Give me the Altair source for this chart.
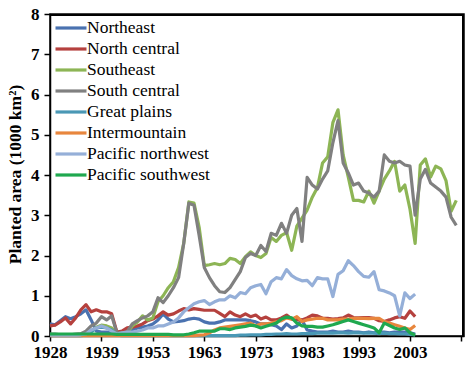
import altair as alt
import pandas as pd

# category position index (Excel-like category axis), tick labels every 10 categories
tick_positions = [0, 10, 20, 30, 40, 50, 60, 70, 80]
tick_labels = ["1928", "1939", "1953", "1963", "1973", "1983", "1993", "2003", ""]

regions = ["Northeast", "North central", "Southeast", "South central",
           "Great plains", "Intermountain", "Pacific northwest", "Pacific southwest"]
colors = ["#4A72B0", "#B5413E", "#8DB555", "#808080",
          "#4A98B5", "#E8863D", "#95AFD8", "#1FA84F"]

northeast = [0.30, 0.28, 0.38, 0.48, 0.43, 0.48, 0.55, 0.65, 0.40, 0.12,
             0.10, 0.10, 0.08, 0.05, 0.08, 0.12, 0.15, 0.20, 0.22, 0.25,
             0.30, 0.40, 0.55, 0.42, 0.35, 0.36, 0.38, 0.42, 0.44, 0.42,
             0.35, 0.32, 0.32, 0.35, 0.40, 0.40, 0.40, 0.40, 0.40, 0.38,
             0.35, 0.30, 0.30, 0.28, 0.25, 0.16, 0.30, 0.20, 0.25, 0.40,
             0.15, 0.12, 0.10, 0.10, 0.10, 0.12, 0.10, 0.10, 0.12, 0.10,
             0.10, 0.08, 0.10, 0.08, 0.10, 0.10, 0.08, 0.10, 0.10, 0.10,
             0.08, 0.05]
north_central = [0.25, 0.27, 0.35, 0.45, 0.30, 0.45, 0.65, 0.78, 0.60, 0.65,
                 0.60, 0.60, 0.55, 0.10, 0.12, 0.20, 0.22, 0.25, 0.30, 0.38,
                 0.42, 0.50, 0.60, 0.52, 0.55, 0.62, 0.68, 0.65, 0.68, 0.66,
                 0.64, 0.64, 0.64, 0.56, 0.48, 0.60, 0.52, 0.48, 0.55, 0.48,
                 0.52, 0.42, 0.47, 0.40, 0.40, 0.45, 0.52, 0.42, 0.40, 0.40,
                 0.45, 0.52, 0.50, 0.44, 0.44, 0.42, 0.43, 0.45, 0.52, 0.46,
                 0.45, 0.46, 0.46, 0.44, 0.38, 0.36, 0.40, 0.45, 0.48, 0.44,
                 0.62, 0.48]
southeast = [0.03, 0.03, 0.03, 0.03, 0.03, 0.03, 0.04, 0.06, 0.12, 0.22,
             0.27, 0.25, 0.20, 0.05, 0.05, 0.08, 0.25, 0.35, 0.50, 0.40,
             0.45, 0.85, 1.00, 1.20, 1.35, 1.70, 2.30, 3.33, 3.30, 2.70,
             1.75, 1.77, 1.80, 1.77, 1.80, 1.93, 1.90, 1.80, 1.97, 2.09,
             2.00, 1.95, 2.05, 2.45, 2.35, 2.50, 2.57, 2.13, 2.73, 2.93,
             3.13, 3.45, 3.69, 4.30, 4.45, 5.30, 5.62, 4.50, 3.95, 3.37,
             3.37, 3.33, 3.60, 3.30, 3.60, 3.90, 4.10, 4.34, 3.60, 3.75,
             3.15, 2.30, 4.25, 4.40, 3.95, 4.22, 4.15, 3.86, 3.10, 3.37]
south_central = [0.05, 0.05, 0.03, 0.03, 0.03, 0.05, 0.06, 0.12, 0.25, 0.32,
                 0.48, 0.40, 0.50, 0.08, 0.08, 0.10, 0.30, 0.38, 0.45, 0.50,
                 0.60, 0.95, 0.83, 1.00, 1.20, 1.45, 2.30, 3.30, 3.25, 2.50,
                 1.70, 1.45, 1.25, 1.10, 1.08, 1.20, 1.40, 1.60, 1.95, 2.05,
                 2.00, 2.25, 2.10, 2.55, 2.50, 2.80, 2.55, 3.00, 3.17, 2.35,
                 3.94, 3.75, 3.65, 3.90, 4.10, 4.80, 5.35, 4.30, 4.05, 3.75,
                 3.80, 3.60, 3.55, 3.45, 3.60, 4.50, 4.34, 4.30, 4.34, 4.25,
                 4.22, 3.00, 3.90, 4.14, 3.80, 3.70, 3.60, 3.45, 2.95, 2.75]
great_plains = [0.01, 0.01, 0.01, 0.01, 0.01, 0.01, 0.01, 0.02, 0.10, 0.20,
                0.22, 0.20, 0.15, 0.02, 0.01, 0.01, 0.01, 0.01, 0.01, 0.01,
                0.01, 0.01, 0.01, 0.01, 0.01, 0.01, 0.01, 0.01, 0.01, 0.01,
                0.01, 0.01, 0.01, 0.01, 0.01, 0.01, 0.01, 0.02, 0.02, 0.03,
                0.03, 0.03, 0.04, 0.04, 0.05, 0.05, 0.06, 0.05, 0.05, 0.06,
                0.06, 0.06, 0.07, 0.07, 0.08, 0.07, 0.08, 0.08, 0.07, 0.08,
                0.08, 0.07, 0.08, 0.07, 0.06, 0.07, 0.06, 0.06, 0.05, 0.05,
                0.04, 0.03]
intermountain = [0.01, 0.01, 0.01, 0.01, 0.01, 0.01, 0.01, 0.01, 0.01, 0.01,
                 0.01, 0.01, 0.01, 0.01, 0.01, 0.01, 0.01, 0.01, 0.01, 0.01,
                 0.01, 0.01, 0.01, 0.01, 0.01, 0.01, 0.01, 0.01, 0.01, 0.02,
                 0.03, 0.08, 0.15, 0.20, 0.22, 0.24, 0.26, 0.28, 0.30, 0.32,
                 0.25, 0.30, 0.30, 0.32, 0.35, 0.38, 0.45, 0.42, 0.48, 0.36,
                 0.40, 0.42, 0.44, 0.44, 0.40, 0.40, 0.40, 0.42, 0.42, 0.44,
                 0.44, 0.44, 0.43, 0.44, 0.44, 0.36, 0.32, 0.28, 0.24, 0.20,
                 0.16, 0.26]
pacific_northwest = [0.02, 0.02, 0.02, 0.02, 0.02, 0.02, 0.03, 0.05, 0.15, 0.20,
                     0.25, 0.20, 0.12, 0.05, 0.08, 0.10, 0.10, 0.12, 0.15, 0.20,
                     0.20, 0.25, 0.25, 0.30, 0.35, 0.45, 0.60, 0.70, 0.80, 0.85,
                     0.88, 0.78, 0.85, 0.90, 0.90, 1.00, 0.95, 1.08, 1.05, 1.20,
                     1.25, 1.28, 1.05, 1.35, 1.45, 1.42, 1.65, 1.50, 1.42, 1.37,
                     1.38, 1.25, 1.45, 1.42, 1.42, 0.98, 1.53, 1.62, 1.87, 1.75,
                     1.60, 1.48, 1.46, 1.60, 1.15, 1.12, 1.07, 1.00, 0.50, 1.07,
                     0.93, 1.04]
pacific_southwest = [0.05, 0.05, 0.05, 0.05, 0.05, 0.05, 0.05, 0.05, 0.05, 0.05,
                     0.05, 0.05, 0.05, 0.04, 0.04, 0.04, 0.04, 0.04, 0.04, 0.04,
                     0.04, 0.04, 0.04, 0.04, 0.03, 0.03, 0.03, 0.05, 0.08, 0.12,
                     0.12, 0.12, 0.12, 0.18, 0.18, 0.16, 0.20, 0.22, 0.24, 0.27,
                     0.25, 0.20, 0.24, 0.28, 0.32, 0.42, 0.47, 0.45, 0.32, 0.25,
                     0.24, 0.24, 0.22, 0.22, 0.25, 0.28, 0.32, 0.36, 0.40, 0.36,
                     0.32, 0.28, 0.24, 0.20, 0.08, 0.32, 0.26, 0.20, 0.16, 0.20,
                     0.08, 0.02]

series = [northeast, north_central, southeast, south_central,
          great_plains, intermountain, pacific_northwest, pacific_southwest]

rows = []
for name, vals in zip(regions, series):
    for i, v in enumerate(vals):
        rows.append({"pos": i, "area": v, "region": name})
df = pd.DataFrame(rows)

label_expr = "{" + ",".join(f"'{p}':'{l}'" for p, l in zip(tick_positions, tick_labels)) + "}[toString(datum.value)]"

font = "Liberation Serif"
W, H = 414, 322
x_scale = alt.Scale(domain=[0, 80.5], nice=False, zero=False)
y_scale = alt.Scale(domain=[0, 8], nice=False)

# frame lines drawn first
frame_df = pd.DataFrame({"f": [0]})
top_border = alt.Chart(frame_df).mark_rule(color="black", strokeWidth=2).encode(
    x=alt.value(0), x2=alt.value(W), y=alt.value(1)
)
right_border = alt.Chart(frame_df).mark_rule(color="black", strokeWidth=2).encode(
    x=alt.value(W - 1), y=alt.value(0), y2=alt.value(H)
)

lines = alt.Chart(df).mark_line(strokeWidth=3.2, strokeJoin="round").encode(
    x=alt.X("pos:Q", scale=x_scale,
            axis=alt.Axis(values=tick_positions, labelExpr=label_expr, title=None,
                          grid=False, domainColor="black", domainWidth=1.5,
                          tickColor="black", tickSize=5, tickWidth=1.5,
                          labelFont=font, labelFontSize=17, labelFontWeight="bold",
                          labelColor="black", labelPadding=3, labelOverlap=False,
                          labelFlush=False, labelBound=False)),
    y=alt.Y("area:Q", scale=y_scale,
            axis=alt.Axis(values=[0, 1, 2, 3, 4, 5, 6, 7, 8], title="Planted area (1000 km²)",
                          grid=False, domainColor="black", domainWidth=1.5,
                          tickColor="black", tickSize=6, tickWidth=1.5,
                          labelFont=font, labelFontSize=17, labelFontWeight="bold",
                          labelColor="black", labelPadding=5, labelFlush=False,
                          labelBound=False,
                          titleFont=font, titleFontSize=17.5, titleFontWeight="bold",
                          titleColor="black", titleX=-35, titleY=160,
                          titleAngle=270, titleAlign="center", titleBaseline="middle")),
    color=alt.Color("region:N",
                    scale=alt.Scale(domain=regions, range=colors),
                    legend=alt.Legend(title=None, orient="none", legendX=9, legendY=2,
                                      symbolType="M-1.55,0H1.55", symbolSize=400,
                                      symbolStrokeWidth=3.2, labelFont=font,
                                      labelFontSize=17.5, labelColor="black",
                                      labelOffset=4, rowPadding=-1, padding=0)),
    order=alt.Order("pos:Q"),
)

chart = alt.layer(top_border, right_border, lines).properties(
    width=W, height=H,
    autosize=alt.AutoSizeParams(type="none"),
    padding={"left": 42, "top": 6, "right": 1, "bottom": 23},
).configure_view(stroke="black", strokeWidth=1.5)

chart.save("out.html", embed_options={"renderer": "svg", "actions": False})
